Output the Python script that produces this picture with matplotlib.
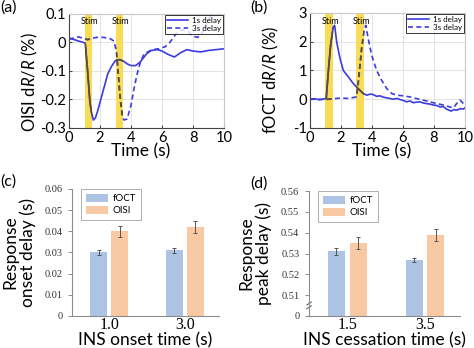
import numpy as np
import matplotlib
matplotlib.use("Agg")
import matplotlib.pyplot as plt

plt.rcParams['font.family'] = ['Lato', 'DejaVu Sans']
plt.rcParams['axes.unicode_minus'] = False
plt.rcParams['mathtext.fontset'] = 'custom'
plt.rcParams['mathtext.it'] = 'Lato:italic'
plt.rcParams['mathtext.rm'] = 'Lato'

# ---- time courses, OISI (%) ----
t_oisi_1s = [0, 0.5, 1.0, 1.05, 1.2, 1.35, 1.45, 1.57, 1.7, 1.85, 2.0, 2.25, 2.5, 2.75,
             3.0, 3.25, 3.5, 3.75, 4.0, 4.3, 4.6, 5.0, 5.3, 5.7, 6.0, 6.4, 6.8, 7.2,
             7.6, 8.0, 8.5, 9.0, 9.5, 10]
oisi_1s = [0.016, 0.007, -0.001, -0.005, -0.10, -0.21, -0.245, -0.272, -0.265, -0.24,
           -0.21, -0.16, -0.11, -0.083, -0.063, -0.06, -0.065, -0.075, -0.081, -0.081,
           -0.068, -0.04, -0.028, -0.025, -0.03, -0.042, -0.051, -0.036, -0.025, -0.03,
           -0.033, -0.028, -0.025, -0.022]
t_oisi_3s = [0, 0.3, 0.6, 0.9, 1.2, 1.5, 1.8, 2.2, 2.6, 2.9, 3.05, 3.15, 3.25, 3.35,
             3.45, 3.55, 3.75, 4.0, 4.2, 4.4, 4.6, 4.8, 5.0, 5.4, 5.8, 6.2, 6.5, 6.9,
             7.3, 7.7, 8.0, 8.3, 8.6, 8.9, 9.2, 9.5, 9.8, 10]
oisi_3s = [0.012, 0.015, 0.02, 0.015, 0.01, 0.015, 0.018, 0.018, 0.015, 0.005, -0.03,
           -0.09, -0.16, -0.22, -0.26, -0.272, -0.268, -0.22, -0.16, -0.11, -0.07,
           -0.045, -0.035, -0.025, -0.022, -0.015, 0.0, 0.03, 0.045, 0.038, 0.022,
           0.018, 0.035, 0.07, 0.1, 0.105, 0.1, 0.1]

# ---- time courses, fOCT (%) ----
t_foct_1s = [0, 0.3, 0.6, 0.9, 1.05, 1.18, 1.33, 1.5, 1.59, 1.72, 1.94, 2.15, 2.47, 2.8,
             3.1, 3.44, 3.66, 3.9, 4.09, 4.3, 4.5, 4.75, 4.95, 5.2, 5.4, 5.6, 5.8, 6.0,
             6.24, 6.45, 6.67, 6.9, 7.1, 7.3, 7.5, 7.75, 7.95, 8.2, 8.4, 8.6, 8.8, 9.1,
             9.3, 9.46, 9.7, 9.9, 10]
foct_1s = [0.0, 0.02, -0.02, 0.01, 0.03, 0.95, 1.88, 2.5, 2.57, 2.0, 1.41, 1.0, 0.78,
           0.54, 0.37, 0.2, 0.14, 0.18, 0.16, 0.1, 0.12, 0.07, 0.05, 0.02, 0.0, 0.03,
           -0.01, -0.04, -0.09, -0.06, -0.12, -0.1, -0.09, -0.13, -0.15, -0.17, -0.2,
           -0.22, -0.27, -0.25, -0.34, -0.41, -0.36, -0.38, -0.33, -0.34, -0.3]
t_foct_3s = [0, 0.5, 1.0, 1.5, 2.0, 2.4, 2.8, 3.0, 3.12, 3.33, 3.5, 3.6, 3.76, 3.98,
             4.3, 4.62, 4.95, 5.27, 5.6, 6.0, 6.45, 6.9, 7.3, 7.74, 8.17, 8.6, 9.03,
             9.25, 9.46, 9.68, 9.9, 10]
foct_3s = [0.0, 0.0, -0.01, 0.02, 0.04, 0.03, 0.06, 0.08, 0.6, 1.76, 2.4, 2.57, 2.1,
           1.53, 1.0, 0.66, 0.37, 0.2, 0.14, 0.12, 0.08, 0.02, -0.03, -0.09, -0.15,
           -0.2, -0.27, -0.3, -0.15, -0.03, -0.15, -0.25]

stim_windows = [(1.0, 1.5), (3.0, 3.5)]

# ---- bar data ----
onset_groups = ['1.0', '3.0']
onset_foct = [0.030, 0.031]
onset_foct_err = [0.001, 0.0013]
onset_oisi = [0.040, 0.042]
onset_oisi_err = [0.0027, 0.0027]

peak_groups = ['1.5', '3.5']
peak_foct = [0.531, 0.527]
peak_foct_err = [0.0015, 0.001]
peak_oisi = [0.535, 0.539]
peak_oisi_err = [0.003, 0.003]

BLUE = '#3b3be0'
YELLOW = '#f8dc55'
DARK = '#5a5030'
C_FOCT = '#adc3e4'
C_OISI = '#f9c9a3'
SERIF = ['Liberation Serif', 'DejaVu Serif']

fig = plt.figure(figsize=(4.74, 3.48), dpi=100)


def time_panel(rect, ylim, yticks, ylabel, c1, c2, ylab_y):
    ax = fig.add_axes(rect)
    spans = [ax.axvspan(a, b, color=YELLOW, lw=0, zorder=1) for a, b in stim_windows]
    for a, b in stim_windows:
        ax.text((a + b) / 2 + 0.1, ylim[1] - 0.07 * (ylim[1] - ylim[0]), 'Stim',
                ha='center', va='center', fontsize=6.5, zorder=5)
    l1, = ax.plot(c1[0], c1[1], color=BLUE, lw=1.2, zorder=2, label='1s delay')
    l2, = ax.plot(c2[0], c2[1], color=BLUE, lw=1.2, ls=(0, (3, 2)), zorder=2,
                  label='3s delay')
    # darker trace where it crosses the stimulus band
    for sp in spans:
        for c, ls in ((c1, '-'), (c2, (0, (3, 2)))):
            ln, = ax.plot(c[0], c[1], color=DARK, lw=1.2, ls=ls, zorder=3)
            ln.set_clip_path(sp)
    ax.set_xlim(0, 10)
    ax.set_ylim(*ylim)
    ax.set_xticks(range(0, 11, 2))
    ax.set_yticks(yticks)
    ax.set_yticklabels([('%g' % v) for v in yticks])
    ax.grid(True, color='#e3e3e3', lw=0.7)
    ax.set_axisbelow(True)
    ax.tick_params(direction='in', labelsize=10.5, length=2.5, pad=2, color='#444')
    for s in ('top', 'right'):
        ax.spines[s].set_color('#c8c8c8')
    for s in ('left', 'bottom'):
        ax.spines[s].set_color('#444444')
    ax.set_xlabel('Time (s)', fontsize=12.5)
    ax.xaxis.set_label_coords(0.46, -0.135)
    ax.set_ylabel(ylabel, fontsize=12)
    ax.yaxis.set_label_coords(-0.185, ylab_y)
    leg = ax.legend(handles=[l1, l2], loc='upper right', fontsize=5.8, frameon=True,
                    fancybox=False, edgecolor='black', borderpad=0.25,
                    handlelength=2.6, handletextpad=0.4, labelspacing=0.1,
                    borderaxespad=0.15)
    leg.get_frame().set_linewidth(0.7)
    return ax


ax_a = time_panel([0.1456, 0.6322, 0.327, 0.3276], (-0.3, 0.1),
                  [-0.3, -0.2, -0.1, 0, 0.1], 'OISI d$R/R$ (%)',
                  (t_oisi_1s, oisi_1s), (t_oisi_3s, oisi_3s), 0.4)
ax_b = time_panel([0.654, 0.6322, 0.327, 0.3305], (-1, 3),
                  [-1, 0, 1, 2, 3], 'fOCT d$R/R$ (%)',
                  (t_foct_1s, foct_1s), (t_foct_3s, foct_3s), 0.42)


def bar_panel(rect, groups, foct, foct_err, oisi, oisi_err, ylim, yticks, yticklabels,
              ylabel, xlabel):
    ax = fig.add_axes(rect)
    x = np.arange(len(groups))
    w = 0.22
    ekw = dict(elinewidth=0.7, ecolor='#555555', capsize=1.5, capthick=0.7)
    base = ylim[0]
    ax.bar(x - 0.14, np.array(foct) - base, w, bottom=base, color=C_FOCT,
           yerr=foct_err, error_kw=ekw, label='fOCT')
    ax.bar(x + 0.14, np.array(oisi) - base, w, bottom=base, color=C_OISI,
           yerr=oisi_err, error_kw=ekw, label='OISI')
    ax.set_xlim(-0.49, 1.45)
    ax.set_ylim(*ylim)
    ax.set_yticks(yticks)
    ax.set_yticklabels(yticklabels, family=SERIF, fontsize=7.5, color='#333333')
    ax.set_xticks(x)
    ax.set_xticklabels(groups, family=SERIF, fontsize=11.5)
    ax.tick_params(axis='x', length=0, pad=1)
    ax.tick_params(axis='y', length=3, width=0.7, color='#8c8c8c', pad=4)
    for s in ('top', 'right'):
        ax.spines[s].set_visible(False)
    for s in ('left', 'bottom'):
        ax.spines[s].set_color('#8c8c8c')
        ax.spines[s].set_linewidth(0.8)
    ax.set_xlabel(xlabel, fontsize=12.5, labelpad=-1)
    ax.set_ylabel(ylabel, fontsize=12.5, linespacing=1.1)
    ax.yaxis.set_label_coords(-0.245, 0.5)
    leg = ax.legend(loc='upper left', bbox_to_anchor=(0.03, 1.04), fontsize=7,
                    frameon=True, fancybox=False, edgecolor='#9a9a9a',
                    handlelength=2.2, handleheight=0.9, handletextpad=0.5,
                    labelspacing=0.3, borderpad=0.5)
    leg.get_frame().set_linewidth(0.7)
    return ax


ax_c = bar_panel([0.1519, 0.092, 0.31, 0.365], onset_groups, onset_foct, onset_foct_err,
                 onset_oisi, onset_oisi_err, (0, 0.06),
                 [0, 0.01, 0.02, 0.03, 0.04, 0.05, 0.06],
                 ['0', '0.01', '0.02', '0.03', '0.04', '0.05', '0.06'],
                 'Response\nonset delay (s)', 'INS onset time (s)')
ax_d = bar_panel([0.652, 0.092, 0.3186, 0.359], peak_groups, peak_foct, peak_foct_err,
                 peak_oisi, peak_oisi_err, (0.50, 0.56),
                 [0.50, 0.51, 0.52, 0.53, 0.54, 0.55, 0.56],
                 ['0', '0.51', '0.52', '0.53', '0.54', '0.55', '0.56'],
                 'Response\npeak delay (s)', 'INS cessation time (s)')

# axis break on the truncated y axis
for yb in (0.07, 0.10):
    ax_d.plot([-0.015, 0.015], [yb - 0.012, yb + 0.012], transform=ax_d.transAxes,
              color='#555555', lw=0.7, clip_on=False)

for label, (px, py) in zip(['(a)', '(b)', '(c)', '(d)'],
                           [(0, 348), (250, 348), (0, 174), (250, 172)]):
    fig.text(px / 474, py / 348, label, fontsize=11.5, ha='left', va='top')

fig.savefig('out.png', dpi=100)
